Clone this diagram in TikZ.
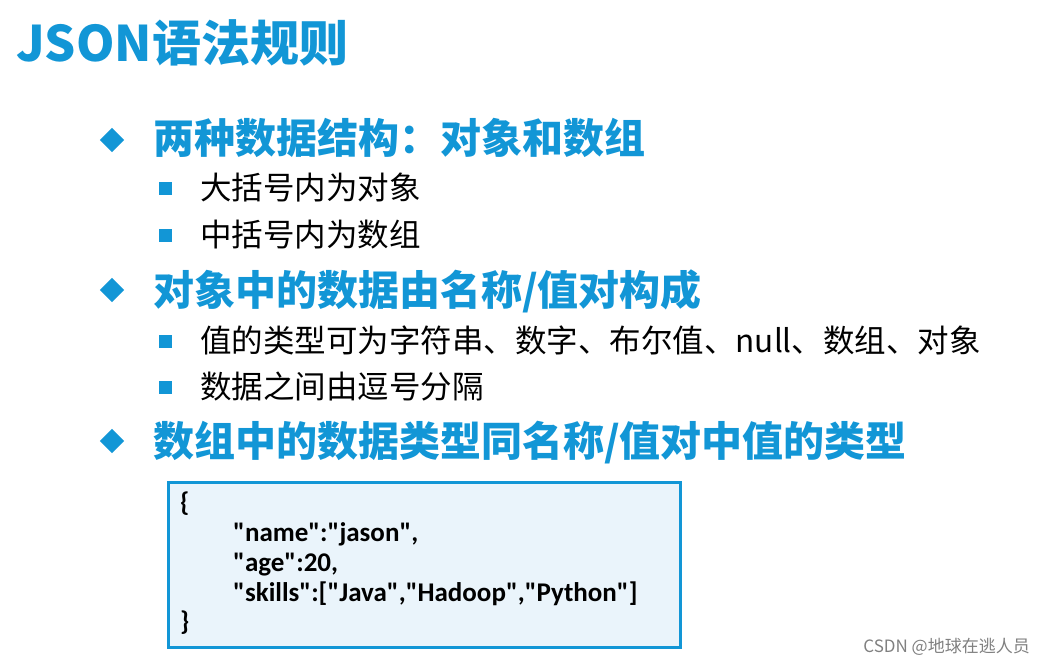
\documentclass[tikz,border=0pt]{standalone}
\usepackage{fontspec}
\setmainfont[Ligatures=NoCommon]{Carlito}
\newfontfamily\codefont[Mapping=]{Carlito}
\newfontfamily\cjk{Noto Sans CJK SC}
\definecolor{tblue}{HTML}{1296D6}
\definecolor{boxfill}{HTML}{EAF4FB}
\newcommand{\qq}{\symbol{34}}
\begin{document}
\begin{tikzpicture}[x=1pt,y=-1pt,
  lone/.style={anchor=base west,text=tblue,font=\cjk\bfseries\fontsize{41}{46}\selectfont,inner sep=0},
  ltwo/.style={anchor=base west,text=black,font=\cjk\fontsize{31.5}{36}\selectfont,inner sep=0},
  dia/.style={fill=tblue,minimum size=17pt,inner sep=0,rotate=45},
  sq/.style={fill=tblue,minimum size=13pt,inner sep=0},
  code/.style={anchor=base west,font=\codefont\bfseries\fontsize{27}{30}\selectfont,inner sep=0}]
\useasboundingbox (0,0) rectangle (1045,666);
\node[anchor=base west,inner sep=0,text=tblue,font=\cjk\bfseries\fontsize{49}{54}\selectfont] (title) at (16,62) {JSON语法规则};
\node[dia] (d1) at (112,140) {}; \node[lone] (t1) at (153,154) {两种数据结构：对象和数组};
\node[sq] (s1) at (165,189) {}; \node[ltwo] (u1) at (200,200) {大括号内为对象};
\node[sq] (s2) at (165,235) {}; \node[ltwo] (u2) at (200,246) {中括号内为数组};
\node[dia] (d2) at (112,290) {}; \node[lone] (t2) at (153,305) {对象中的数据由名称/值对构成};
\node[sq] (s3) at (165,341) {}; \node[ltwo] (u3) at (200,352) {值的类型可为字符串、数字、布尔值、null、数组、对象};
\node[sq] (s4) at (165,387) {}; \node[ltwo] (u4) at (200,398) {数据之间由逗号分隔};
\node[dia] (d3) at (112,441) {}; \node[lone] (t3) at (153,456) {数组中的数据类型同名称/值对中值的类型};
\draw[tblue,line width=3pt,fill=boxfill] (168,482) rectangle (680,647);
\node[code] (c1) at (180,511) {\{};
\node[code] (c2) at (233,541) {\qq name\qq:\qq jason\qq,};
\node[code] (c3) at (233,571) {\qq age\qq:20,};
\node[code] (c4) at (233,601) {\qq skills\qq:[\qq Java\qq,\qq Hadoop\qq,\qq Python\qq]};
\node[code] (c5) at (180,630) {\}};
\node[anchor=base east,inner sep=0,text=gray,font=\cjk\fontsize{17}{20}\selectfont] (wm) at (1030,652) {CSDN @地球在逃人员};
\end{tikzpicture}
\end{document}
